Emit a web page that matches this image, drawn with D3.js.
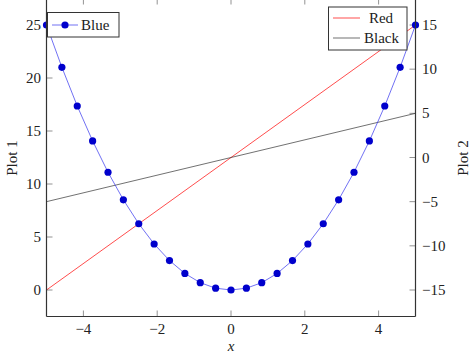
<!DOCTYPE html>
<html><head><meta charset="utf-8">
<script src="https://cdn.jsdelivr.net/npm/d3@7"></script>
<style>body{margin:0;background:#fff}svg{display:block}text{font-family:"Liberation Serif","DejaVu Serif",serif;fill:#222}</style>
</head><body>
<svg id="c" width="474" height="357"></svg>
<script>
const blueX = [-5,-4.583,-4.167,-3.75,-3.333,-2.917,-2.5,-2.083,-1.667,-1.25,-0.833,-0.417,0,0.417,0.833,1.25,1.667,2.083,2.5,2.917,3.333,3.75,4.167,4.583,5];
const blueY = [25,21.01,17.36,14.06,11.11,8.51,6.25,4.34,2.78,1.56,0.69,0.17,0,0.17,0.69,1.56,2.78,4.34,6.25,8.51,11.11,14.06,17.36,21.01,25];
const redX = [-5,5];
const redY = [-15,15];
const blackX = [-5,5];
const blackY = [-5,5];
const xTicks = [-4,-2,0,2,4];
const y1Ticks = [0,5,10,15,20,25];
const y2Ticks = [-15,-10,-5,0,5,10,15];

const svg = d3.select("#c");
const L=46.5,R=415.5,T=-1.5,B=316.5;
const x = d3.scaleLinear().domain([-5,5]).range([L,R]);
const y1 = d3.scaleLinear().domain([-2.5,27.5]).range([B,T]);
const y2 = d3.scaleLinear().domain([-18,18]).range([B,T]);
const fmt = d => d<0 ? "\u2212"+Math.abs(d) : String(d);
const TL=6;

// ticks
const g = svg.append("g");
xTicks.forEach(t=>{
  g.append("line").attr("x1",x(t)).attr("x2",x(t)).attr("y1",B).attr("y2",B-TL).attr("stroke","#777").attr("stroke-width",0.8);
  g.append("line").attr("x1",x(t)).attr("x2",x(t)).attr("y1",T).attr("y2",T+TL).attr("stroke","#777").attr("stroke-width",0.8);
  g.append("text").attr("x",x(t)).attr("y",334).attr("text-anchor","middle").attr("font-size",15).text(fmt(t));
});
y1Ticks.forEach(t=>{
  g.append("line").attr("x1",L).attr("x2",L+TL).attr("y1",y1(t)).attr("y2",y1(t)).attr("stroke","#777").attr("stroke-width",0.8);
  g.append("text").attr("x",41).attr("y",y1(t)+5).attr("text-anchor","end").attr("font-size",15).text(fmt(t));
});
y2Ticks.forEach(t=>{
  g.append("line").attr("x1",R).attr("x2",R-TL).attr("y1",y2(t)).attr("y2",y2(t)).attr("stroke","#777").attr("stroke-width",0.8);
  g.append("text").attr("x",422).attr("y",y2(t)+5).attr("text-anchor","start").attr("font-size",15).text(fmt(t));
});

// data lines
const lineBlue = d3.line().x(d=>x(d[0])).y(d=>y1(d[1]));
const line2 = d3.line().x(d=>x(d[0])).y(d=>y2(d[1]));
svg.append("path").attr("d",line2(redX.map((v,i)=>[v,redY[i]]))).attr("fill","none").attr("stroke","#f00").attr("stroke-width",0.7);
svg.append("path").attr("d",line2(blackX.map((v,i)=>[v,blackY[i]]))).attr("fill","none").attr("stroke","#333").attr("stroke-width",0.7);
const bd = blueX.map((v,i)=>[v,blueY[i]]);
svg.append("path").attr("d",lineBlue(bd)).attr("fill","none").attr("stroke","#3333ee").attr("stroke-width",0.7);
svg.selectAll("circle.m").data(bd).enter().append("circle").attr("class","m")
  .attr("cx",d=>x(d[0])).attr("cy",d=>y1(d[1])).attr("r",3.6).attr("fill","#0000cc");

// axis frame
svg.append("line").attr("x1",L).attr("x2",L).attr("y1",T).attr("y2",B).attr("stroke","#333").attr("stroke-width",1.2);
svg.append("line").attr("x1",R).attr("x2",R).attr("y1",T).attr("y2",B).attr("stroke","#333").attr("stroke-width",1.2);
svg.append("line").attr("x1",L).attr("x2",R).attr("y1",B).attr("y2",B).attr("stroke","#333").attr("stroke-width",1.2);
svg.append("line").attr("x1",L).attr("x2",R).attr("y1",T).attr("y2",T).attr("stroke","#333").attr("stroke-width",1.2);

// labels
svg.append("text").attr("x",231).attr("y",351).attr("text-anchor","middle").attr("font-size",15).attr("font-style","italic").text("x");
svg.append("text").attr("transform","translate(17,158) rotate(-90)").attr("text-anchor","middle").attr("font-size",15).text("Plot 1");
svg.append("text").attr("transform","translate(468,158) rotate(-90)").attr("text-anchor","middle").attr("font-size",15).text("Plot 2");

// legend 1
const lg1 = svg.append("g");
lg1.append("rect").attr("x",47.5).attr("y",12.5).attr("width",71.5).attr("height",24.5).attr("fill","#fff").attr("stroke","#333").attr("stroke-width",1);
lg1.append("line").attr("x1",52).attr("x2",78).attr("y1",25).attr("y2",25).attr("stroke","#3333ee").attr("stroke-width",0.7);
lg1.append("circle").attr("cx",65).attr("cy",25).attr("r",3.6).attr("fill","#0000cc");
lg1.append("text").attr("x",81).attr("y",30).attr("font-size",15).text("Blue");

// legend 2
const lg2 = svg.append("g");
lg2.append("rect").attr("x",328.5).attr("y",7).attr("width",78.5).attr("height",43).attr("fill","#fff").attr("stroke","#333").attr("stroke-width",1);
lg2.append("line").attr("x1",333).attr("x2",360).attr("y1",18).attr("y2",18).attr("stroke","#f00").attr("stroke-width",0.7);
lg2.append("line").attr("x1",333).attr("x2",360).attr("y1",38).attr("y2",38).attr("stroke","#333").attr("stroke-width",0.7);
lg2.append("text").attr("x",381).attr("y",23).attr("text-anchor","middle").attr("font-size",15).text("Red");
lg2.append("text").attr("x",381.5).attr("y",43).attr("text-anchor","middle").attr("font-size",15).text("Black");
</script>
</body></html>
